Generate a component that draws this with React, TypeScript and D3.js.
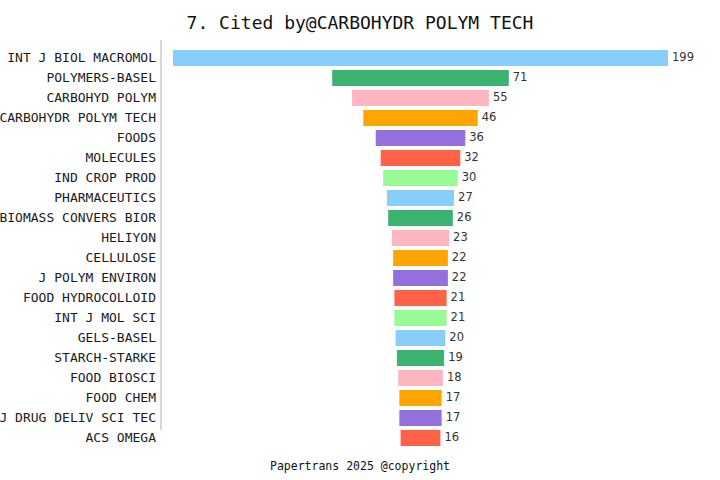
import React from 'react';
import * as d3 from 'd3';

const journals = [
  'INT J BIOL MACROMOL', 'POLYMERS-BASEL', 'CARBOHYD POLYM', 'CARBOHYDR POLYM TECH', 'FOODS',
  'MOLECULES', 'IND CROP PROD', 'PHARMACEUTICS', 'BIOMASS CONVERS BIOR', 'HELIYON',
  'CELLULOSE', 'J POLYM ENVIRON', 'FOOD HYDROCOLLOID', 'INT J MOL SCI', 'GELS-BASEL',
  'STARCH-STARKE', 'FOOD BIOSCI', 'FOOD CHEM', 'J DRUG DELIV SCI TEC', 'ACS OMEGA',
];
const counts = [199, 71, 55, 46, 36, 32, 30, 27, 26, 23, 22, 22, 21, 21, 20, 19, 18, 17, 17, 16];
const palette = ['#87CEFA', '#3CB371', '#FFB6C1', '#FFA500', '#9370DB', '#FF6347', '#98FB98'];

const title = '7. Cited by@CARBOHYDR POLYM TECH';
const footer = 'Papertrans 2025 @copyright';

const W = 720;
const H = 480;

export default function App() {
  const ref = React.useRef<SVGSVGElement>(null);

  React.useEffect(() => {
    if (!ref.current) return;
    const svg = d3.select(ref.current);
    svg.selectAll('*').remove();

    const centerX = 420.5;
    const y = d3.scaleBand<string>().domain(journals).range([48, 448]).paddingInner(0.2).paddingOuter(0.1);
    const w = d3.scaleLinear().domain([0, d3.max(counts) as number]).range([0, 495]);

    svg.append('text')
      .attr('x', 360).attr('y', 29)
      .attr('text-anchor', 'middle')
      .attr('font-family', '"DejaVu Sans Mono", monospace')
      .attr('font-size', 18)
      .attr('fill', '#111')
      .text(title);

    // axis line
    svg.append('line')
      .attr('x1', 161).attr('x2', 161)
      .attr('y1', 40).attr('y2', 430)
      .attr('stroke', '#d9d9d9').attr('stroke-width', 2);

    const rows = svg.append('g').selectAll('g')
      .data(journals.map((name, i) => ({ name, value: counts[i], i })))
      .join('g');

    rows.append('text')
      .attr('x', 156)
      .attr('y', d => (y(d.name) as number) + y.bandwidth() / 2)
      .attr('dy', '0.27em')
      .attr('text-anchor', 'end')
      .attr('font-family', '"DejaVu Sans Mono", monospace')
      .attr('font-size', 13)
      .attr('fill', '#1a1a1a')
      .text(d => d.name);

    rows.append('rect')
      .attr('x', d => centerX - w(d.value) / 2)
      .attr('y', d => y(d.name) as number)
      .attr('width', d => w(d.value))
      .attr('height', y.bandwidth())
      .attr('fill', d => palette[d.i % palette.length]);

    rows.append('text')
      .attr('x', d => centerX + w(d.value) / 2 + 4)
      .attr('y', d => (y(d.name) as number) + y.bandwidth() / 2)
      .attr('dy', '0.25em')
      .attr('font-family', '"DejaVu Sans", sans-serif')
      .attr('font-size', 11.5)
      .attr('fill', '#333')
      .text(d => d.value);

    svg.append('text')
      .attr('x', 360).attr('y', 470)
      .attr('text-anchor', 'middle')
      .attr('font-family', '"DejaVu Sans Mono", monospace')
      .attr('font-size', 11.5)
      .attr('fill', '#111')
      .text(footer);
  }, []);

  return (
    <svg ref={ref} width={W} height={H} viewBox={`0 0 ${W} ${H}`}
      style={{ position: 'absolute', left: 0, top: 0, background: '#fff' }} />
  );
}
